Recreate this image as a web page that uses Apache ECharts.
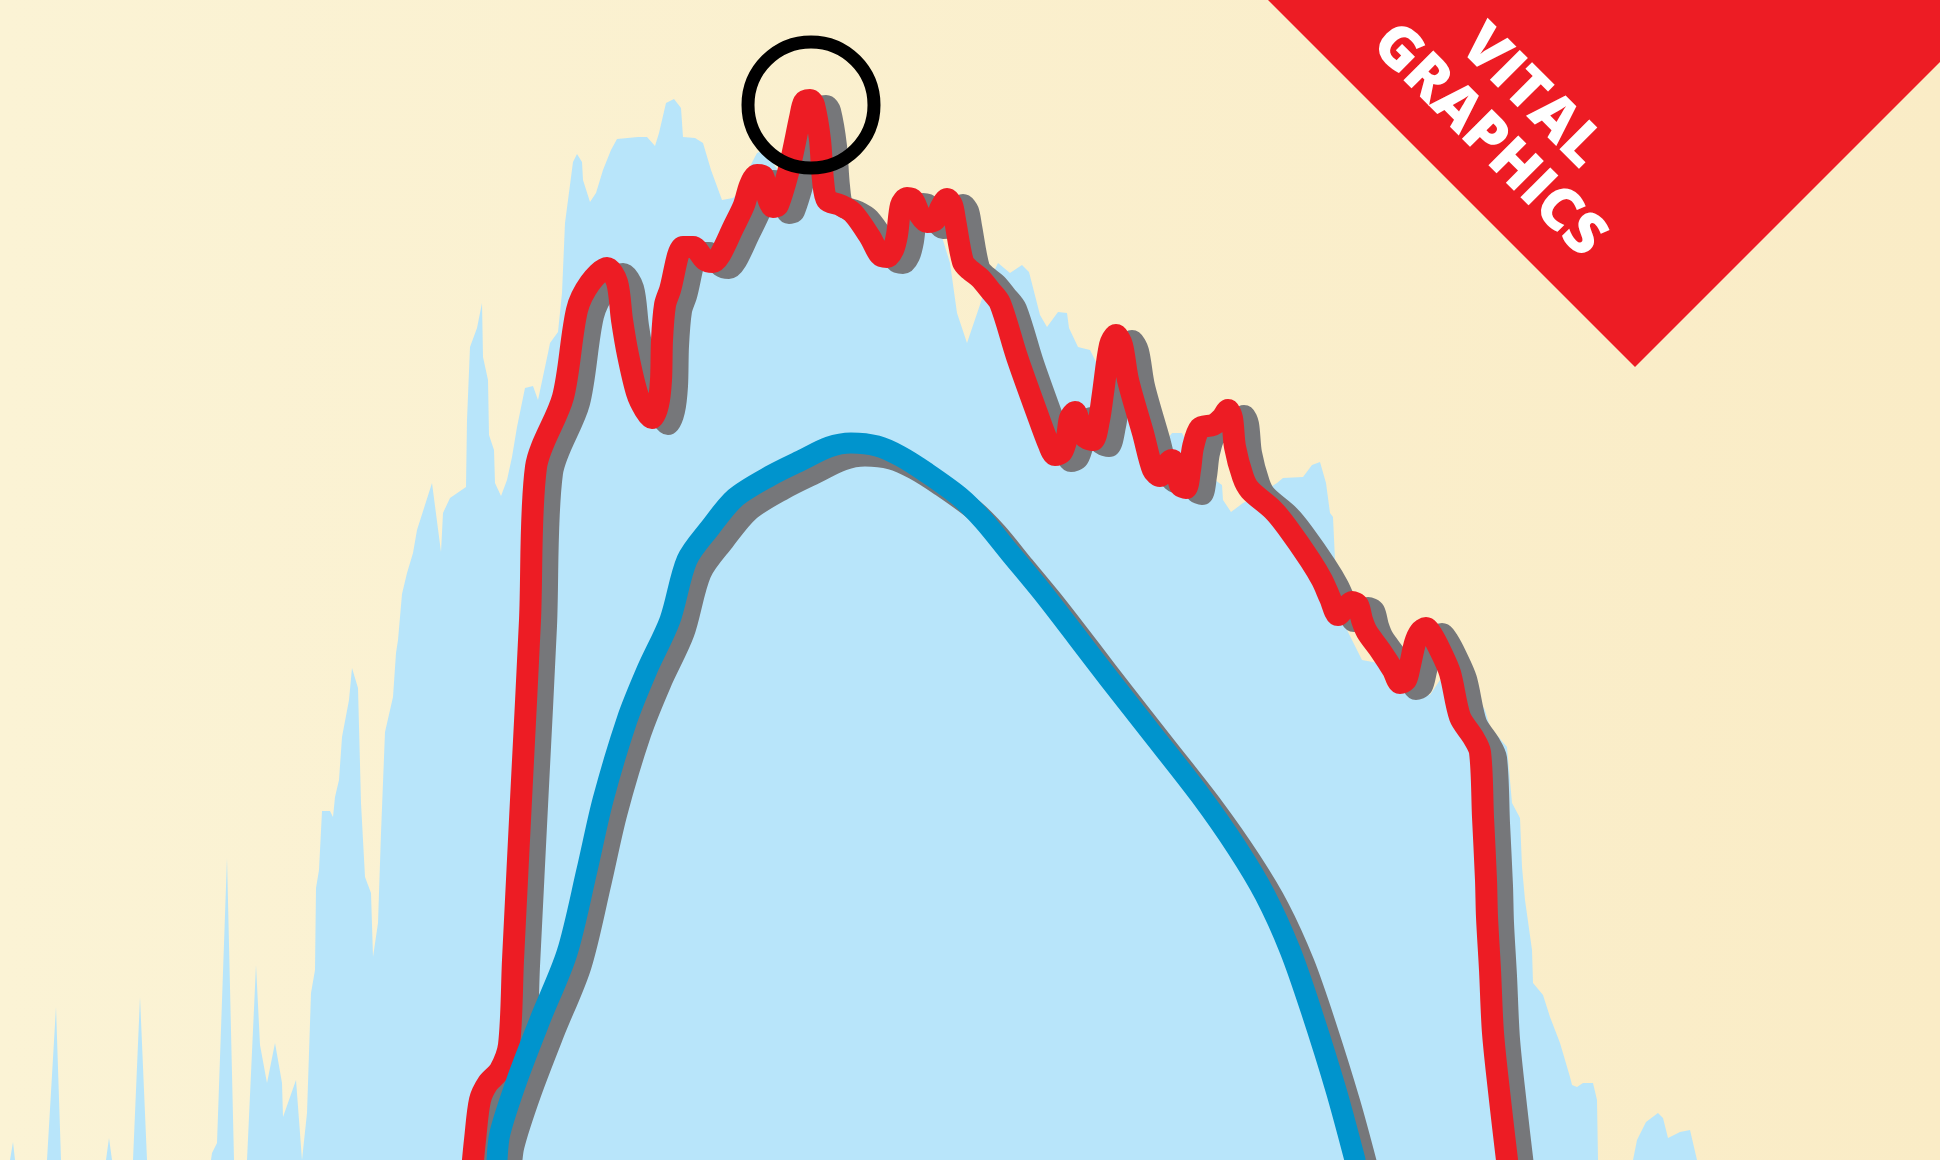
<!DOCTYPE html>
<html>
<head>
<meta charset="utf-8">
<script src="https://cdn.jsdelivr.net/npm/echarts@6/dist/echarts.min.js"></script>
<style>
html,body{margin:0;padding:0;width:1940px;height:1160px;overflow:hidden;}
#chart{width:1940px;height:1160px;}
</style>
</head>
<body>
<div id="chart"></div>
<script>
// Light-blue spiky background series [x, value]
const areaPoints = [
[0,0],[10,0],[13,18],[15,0],[47,0],[56,153],[61,0],[106,0],[109,22],[112,0],[133,0],[140,163],[147,0],
[211,0],[212,7],[217,17],[227,302],[234,0],[247,0],[256,195],[260,115],[267,77],[275,117],[282,77],[283,43],
[296,80],[302,0],[307,47],[311,167],[315,190],[316,272],[319,290],[322,349],[330,349],[333,343],[335,363],
[339,380],[342,423],[349,460],[352,492],[358,472],[361,357],[365,283],[371,267],[373,203],[378,237],[381,327],
[385,428],[393,463],[396,507],[398,520],[402,566],[407,587],[413,607],[417,630],[432,677],[441,608],[443,647],
[450,662],[466,673],[467,740],[470,813],[477,832],[482,857],[483,803],[488,780],[489,725],[494,710],[495,677],
[501,664],[507,680],[512,703],[517,733],[525,772],[533,774],[538,760],[548,807],[550,817],[558,828],[562,867],
[565,937],[573,998],[577,1006],[582,998],[583,980],[590,958],[596,967],[603,990],[611,1010],[617,1021],[638,1023],
[647,1023],[655,1014],[659,1027],[666,1057],[674,1061],[681,1052],[683,1023],[695,1022],[703,1017],[711,990],
[722,960],[733,962],[738,967],[747,988],[757,1007],[764,1010],[773,997],[779,988],[790,995],[800,1042],[811,1060],
[820,1020],[826,965],[840,958],[860,935],[888,900],[898,893],[905,920],[915,945],[930,932],[942,923],[950,897],
[957,847],[967,817],[985,870],[998,897],[1010,887],[1022,895],[1029,888],[1040,845],[1047,833],[1058,848],
[1067,847],[1069,832],[1078,813],[1090,810],[1100,790],[1105,780],[1117,815],[1125,795],[1140,735],[1160,690],
[1167,720],[1172,727],[1182,727],[1190,710],[1203,690],[1215,680],[1222,675],[1223,660],[1231,648],[1243,657],
[1255,663],[1277,677],[1283,682],[1303,683],[1312,695],[1320,698],[1326,677],[1330,647],[1333,643],[1335,600],
[1340,543],[1347,530],[1362,500],[1378,497],[1388,473],[1400,470],[1430,465],[1440,480],[1477,463],[1485,450],
[1490,433],[1507,413],[1512,357],[1520,342],[1522,293],[1525,260],[1532,210],[1533,177],[1543,165],[1550,143],
[1560,117],[1570,83],[1572,75],[1577,73],[1583,77],[1593,77],[1597,60],[1598,0],[1633,0],[1637,20],[1646,38],
[1658,47],[1663,42],[1668,22],[1680,28],[1690,30],[1697,0],[1940,0]
];

// Red series
const redPoints = [
[473,0],[475,20],[480,60],[488,77],[500,90],[509,115],[513,200],[522,380],[530,540],[536,693],
[563,763],[577,850],[590,877],[607,892],[617,878],[622,840],[628,805],[637,767],[645,750],[652,742],[658,755],
[661,780],[662,820],[665,855],[670,870],[683,913],[693,913],[705,900],[713,898],[720,905],[733,932],[744,955],
[750,975],[757,985],[763,984],[768,962],[773,953],[778,955],[790,995],[800,1042],[804,1058],[810,1060],[814,1055],
[820,1020],[823,980],[827,960],[840,955],[853,947],[870,923],[880,905],[887,903],[893,910],[897,925],[901,955],
[907,962],[913,960],[920,945],[927,938],[935,940],[941,953],[947,961],[952,955],[955,940],[963,898],[970,890],
[980,882],[990,870],[1000,857],[1017,803],[1037,747],[1049,715],[1055,705],[1062,708],[1067,723],[1070,742],
[1075,748],[1080,735],[1085,723],[1093,720],[1099,740],[1103,767],[1110,815],[1116,825],[1122,815],[1128,780],
[1143,727],[1153,690],[1160,684],[1166,695],[1172,700],[1177,690],[1180,675],[1186,672],[1190,690],[1193,713],
[1200,732],[1213,735],[1222,742],[1228,750],[1232,742],[1235,713],[1243,683],[1250,670],[1273,650],[1287,633],
[1310,600],[1322,580],[1330,562],[1338,545],[1345,552],[1352,558],[1358,555],[1362,540],[1367,528],[1380,510],
[1393,490],[1400,477],[1406,480],[1410,495],[1415,517],[1420,528],[1426,532],[1432,525],[1440,510],[1450,487],
[1460,443],[1473,423],[1480,408],[1483,343],[1486,280],[1487,243],[1490,190],[1493,127],[1500,60],[1507,0]
];

// Blue series
const bluePoints = [
[497,0],[500,27],[517,80],[540,140],[567,207],[587,290],[603,360],[627,440],[647,490],[670,540],[687,600],
[710,632],[735,662],[770,684],[802,700],[829,713],[851,717],[877,714],[900,704],[927,687],[960,663],[983,640],
[1010,607],[1043,567],[1077,523],[1110,480],[1150,429],[1200,365],[1237,312],[1265,265],[1290,210],[1311,150],
[1336,70],[1355,0]
];

// Highlighted peak (circle)
const highlight = [811, 1055];

const brandLines = ['VITAL', 'GRAPHICS'];

const chart = echarts.init(document.getElementById('chart'), null, {renderer: 'canvas'});

const brandFont = '800 59px "Open Sans", "DejaVu Sans", sans-serif';

const option = {
  animation: false,
  grid: {left: 0, right: 0, top: 0, bottom: 0, containLabel: false},
  xAxis: {type: 'value', min: 0, max: 1940, show: false},
  yAxis: {type: 'value', min: 0, max: 1160, show: false},
  graphic: [
    {
      type: 'rect', z: -10, silent: true,
      shape: {x: 0, y: 0, width: 1940, height: 1160},
      style: {fill: new echarts.graphic.LinearGradient(0, 0, 1, 0, [
        {offset: 0, color: '#FBF3D5'},
        {offset: 1, color: '#FAECC6'}
      ])}
    },
    {
      type: 'polygon', z: 100, silent: true,
      shape: {points: [[1268, 0], [1940, 0], [1940, 62], [1635, 367]]},
      style: {fill: '#ED1C24'}
    },
    {
      type: 'text', z: 101, silent: true,
      x: 1531, y: 97, rotation: -Math.PI / 4,
      style: {text: brandLines[0], fill: '#FFFFFF', font: brandFont,
        align: 'center', verticalAlign: 'middle'}
    },
    {
      type: 'text', z: 101, silent: true,
      x: 1488, y: 141, rotation: -Math.PI / 4,
      style: {text: brandLines[1], fill: '#FFFFFF', font: brandFont,
        align: 'center', verticalAlign: 'middle'}
    }
  ],
  series: [
    {
      type: 'line', name: 'range', data: areaPoints, z: 1,
      symbol: 'none', smooth: false,
      lineStyle: {width: 0},
      areaStyle: {color: '#B8E5FA', opacity: 1, origin: 'start'}
    },
    {
      type: 'line', name: 'red', data: redPoints, z: 3,
      symbol: 'none', smooth: 0.3,
      lineStyle: {color: '#ED1C24', width: 22, cap: 'round', join: 'round',
        shadowColor: '#76777A', shadowBlur: 0, shadowOffsetX: 16, shadowOffsetY: 6},
      markPoint: {
        symbol: 'circle', symbolSize: 126, silent: true,
        label: {show: false},
        itemStyle: {color: 'rgba(0,0,0,0)', borderColor: '#000000', borderWidth: 13},
        data: [{coord: highlight}]
      }
    },
    {
      type: 'line', name: 'blue', data: bluePoints, z: 4,
      symbol: 'none', smooth: 0.3,
      lineStyle: {color: '#0094CD', width: 21, cap: 'round', join: 'round',
        shadowColor: '#76777A', shadowBlur: 0, shadowOffsetX: 14, shadowOffsetY: 13}
    }
  ]
};
chart.setOption(option);
</script>
</body>
</html>
